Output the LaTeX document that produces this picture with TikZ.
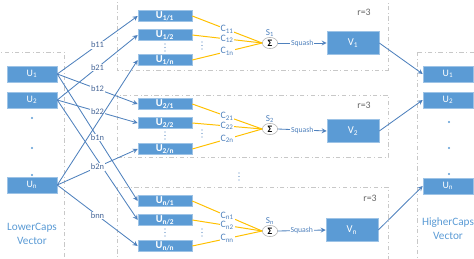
\documentclass[tikz,border=0pt]{standalone}
\usepackage{fontspec}
\setmainfont{Carlito}
\usetikzlibrary{shapes.geometric}
\definecolor{capblue}{RGB}{91,155,213}
\definecolor{linkblue}{RGB}{79,129,189}
\definecolor{labblue}{RGB}{68,100,150}
\definecolor{cgold}{RGB}{255,192,0}
\definecolor{grpgray}{RGB}{200,200,200}
\begin{document}
\begin{tikzpicture}[x=0.025cm,y=-0.025cm,>=stealth,
    capbox/.style={draw=capblue!60!white,fill=capblue,text=white,inner sep=0pt},
    lowbox/.style={capbox,minimum width=1.25cm,minimum height=0.4cm,font=\fontsize{7}{8}\selectfont},
    predbox/.style={capbox,minimum width=1.35cm,minimum height=0.27cm,font=\fontsize{7.5}{8}\selectfont\bfseries},
    vbox/.style={capbox,minimum width=1.3cm,minimum height=0.57cm,font=\fontsize{7.5}{8}\selectfont},
    sumnode/.style={ellipse,draw=gray!60,fill=white,minimum width=0.38cm,minimum height=0.28cm,inner sep=0pt,font=\fontsize{7}{8}\selectfont\bfseries},
    link/.style={->,linkblue,line width=0.6pt},
    wlab/.style={fill=white,inner sep=0.6pt,text=labblue,font=\fontsize{6}{7}\selectfont},
    cline/.style={cgold,line width=0.7pt},
    clab/.style={fill=white,inner sep=0.5pt,text=linkblue,font=\fontsize{7}{8}\selectfont},
    grp/.style={grpgray,dash dot,line width=0.5pt}]
    \useasboundingbox (0,0) rectangle (474,258);
    \draw[grp] (-2,52) rectangle (64,262);
    \draw[grp] (117,-5) rectangle (388,70);
    \draw[grp] (117,95) rectangle (388,157);
    \draw[grp] (117,187) rectangle (388,265);
    \draw[grp] (417,52) rectangle (480,262);
    \node[lowbox] (lu1) at (32,74) {U\textsubscript{1}};
    \node[lowbox] (lu2) at (32,100) {U\textsubscript{2}};
    \node[lowbox] (lun) at (32,185) {U\textsubscript{n}};
    \fill[capblue] (32,118) circle (1.2) (32,148) circle (1.2) (32,175) circle (1.2);
    \node[text=capblue,align=center,font=\fontsize{8}{10}\selectfont] (lowtxt) at (32,234) {LowerCaps\\Vector};
    \node[predbox] (u11) at (165,16) {U\textsubscript{1/1}};
    \node[predbox] (u12) at (165,35) {U\textsubscript{1/2}};
    \node[predbox] (u1n) at (165,60) {U\textsubscript{1/n}};
    \node[predbox] (u21) at (165,104) {U\textsubscript{2/1}};
    \node[predbox] (u22) at (165,123) {U\textsubscript{2/2}};
    \node[predbox] (u2n) at (165,149) {U\textsubscript{2/n}};
    \node[predbox] (un1) at (165,201) {U\textsubscript{n/1}};
    \node[predbox] (un2) at (165,220) {U\textsubscript{n/2}};
    \node[predbox] (unn) at (165,246) {U\textsubscript{n/n}};
    \draw[link] (lu1.east) -- node[wlab] {b11} (u11.west);
    \draw[link] (lu1.east) -- node[wlab] {b12} (u21.west);
    \draw[link] (lu1.east) -- node[wlab] {b1n} (un1.west);
    \draw[link] (lu2.east) -- node[wlab] {b21} (u12.west);
    \draw[link] (lu2.east) -- node[wlab] {b22} (u22.west);
    \draw[link] (lu2.east) -- (un2.west);
    \draw[link] (lun.east) -- (u1n.west);
    \draw[link] (lun.east) -- node[wlab] {b2n} (u2n.west);
    \draw[link] (lun.east) -- node[wlab] {bnn} (unn.west);
    \node[sumnode] (s1) at (270,43) {Σ};
    \node[sumnode] (s2) at (270,129) {Σ};
    \node[sumnode] (sn) at (270,231) {Σ};
    \node[text=linkblue,font=\fontsize{6.5}{7}\selectfont] (s1lab) at (270,33) {S\textsubscript{1}};
    \node[text=linkblue,font=\fontsize{6.5}{7}\selectfont] (s2lab) at (270,119) {S\textsubscript{2}};
    \node[text=linkblue,font=\fontsize{6.5}{7}\selectfont] (snlab) at (270,221) {S\textsubscript{n}};
    \draw[cline] (u11.east) -- node[clab] {C\textsubscript{11}} (s1.west);
    \draw[cline] (u12.east) -- node[clab] {C\textsubscript{12}} (s1.west);
    \draw[cline] (u1n.east) -- node[clab] {C\textsubscript{1n}} (s1.west);
    \draw[cline] (u21.east) -- node[clab] {C\textsubscript{21}} (s2.west);
    \draw[cline] (u22.east) -- node[clab] {C\textsubscript{22}} (s2.west);
    \draw[cline] (u2n.east) -- node[clab] {C\textsubscript{2n}} (s2.west);
    \draw[cline] (un1.east) -- node[clab] {C\textsubscript{n1}} (sn.west);
    \draw[cline] (un2.east) -- node[clab] {C\textsubscript{n2}} (sn.west);
    \draw[cline] (unn.east) -- node[clab] {C\textsubscript{nn}} (sn.west);
    \fill[linkblue] (165,44) circle (0.7) (165,47.5) circle (0.7) (165,51) circle (0.7);
    \fill[linkblue] (202,42) circle (0.7) (202,45.5) circle (0.7) (202,49) circle (0.7);
    \fill[linkblue] (165,132) circle (0.7) (165,135.5) circle (0.7) (165,139) circle (0.7);
    \fill[linkblue] (202,130) circle (0.7) (202,133.5) circle (0.7) (202,137) circle (0.7);
    \fill[linkblue] (165,229) circle (0.7) (165,232.5) circle (0.7) (165,236) circle (0.7);
    \fill[linkblue] (202,229) circle (0.7) (202,232.5) circle (0.7) (202,236) circle (0.7);
    \fill[linkblue] (239,173) circle (0.7) (239,176.5) circle (0.7) (239,180) circle (0.7);
    \node[vbox] (v1) at (353,43) {V\textsubscript{1}};
    \node[vbox] (v2) at (353,131) {V\textsubscript{2}};
    \node[vbox] (vn) at (352,230) {V\textsubscript{n}};
    \draw[link] (s1.east) -- node[wlab,text=linkblue,font=\fontsize{5.5}{6}\selectfont] {Squash} (v1.west);
    \draw[link] (s2.east) -- node[wlab,text=linkblue,font=\fontsize{5.5}{6}\selectfont] {Squash} (v2.west);
    \draw[link] (sn.east) -- node[wlab,text=linkblue,font=\fontsize{5.5}{6}\selectfont] {Squash} (vn.west);
    \node[text=gray!80!black,font=\fontsize{7}{8}\selectfont] (r1) at (364,12) {r=3};
    \node[text=gray!80!black,font=\fontsize{7}{8}\selectfont] (r2) at (364,105) {r=3};
    \node[text=gray!80!black,font=\fontsize{7}{8}\selectfont] (rn) at (370,198) {r=3};
    \node[lowbox] (hu1) at (448,74) {U\textsubscript{1}};
    \node[lowbox] (hu2) at (448,100) {U\textsubscript{2}};
    \node[lowbox] (hun) at (448,186) {U\textsubscript{n}};
    \fill[capblue] (449,122) circle (1.2) (449,148) circle (1.2) (449,174) circle (1.2);
    \node[text=capblue,align=center,font=\fontsize{8}{10}\selectfont] (hightxt) at (448,229) {HigherCaps\\Vector};
    \draw[link] (v1.east) -- (hu1.west);
    \draw[link] (v2.east) -- (hu2.west);
    \draw[link] (vn.east) -- (hun.west);
\end{tikzpicture}
\end{document}
